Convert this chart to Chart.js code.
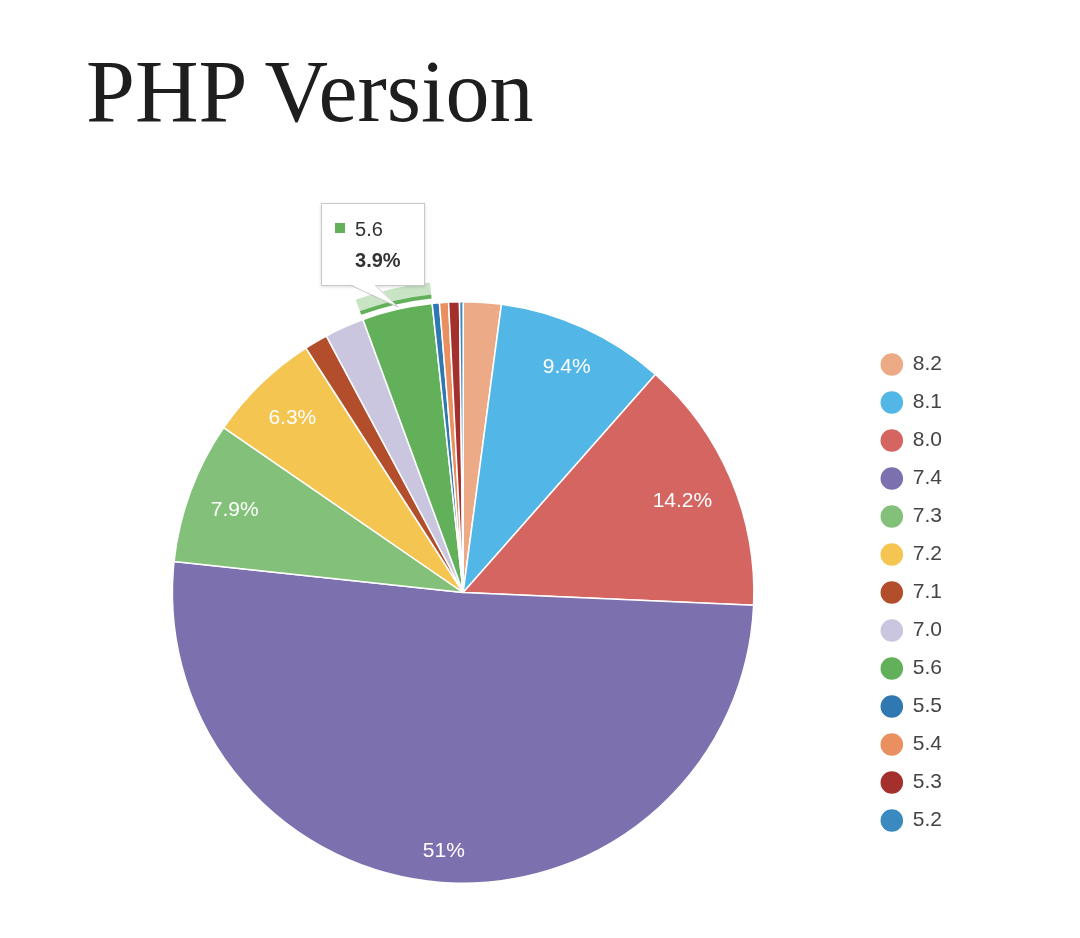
<!DOCTYPE html>
<html>
<head>
<meta charset="utf-8">
<title>PHP Version</title>
<script src="https://cdn.jsdelivr.net/npm/chart.js@4"></script>
<style>
  html, body { margin: 0; padding: 0; background: #fff; }
  #wrap { position: relative; width: 1080px; height: 938px; overflow: hidden; }
  #chart { position: absolute; left: 0; top: 0; }
  #title {
    position: absolute; left: 86px; top: 48px; margin: 0;
    font: normal 88px/88px "Liberation Serif", "DejaVu Serif", serif;
    color: #1e1e1e; z-index: 2;
  }
  #tip {
    position: absolute; display: none; z-index: 3;
    width: 102px; height: 81px;
    background: #fff; border: 1px solid #c8c8c8;
    box-shadow: 0 1px 3px rgba(0,0,0,0.15);
    font-family: "Liberation Sans", Arial, sans-serif; color: #222;
  }
  #tip .sw { position: absolute; left: 13px; top: 19px; width: 10px; height: 10px; }
  #tip .lbl { position: absolute; left: 33px; top: 13px; font-size: 20px; line-height: 24px; color: #333; }
  #tip .val { position: absolute; left: 33px; top: 44px; font-size: 20px; line-height: 24px; font-weight: bold; color: #333; }
  #tip svg { position: absolute; left: -1px; top: 80px; overflow: visible; }
</style>
</head>
<body>
<div id="wrap">
  <h1 id="title">PHP Version</h1>
  <canvas id="chart" width="1080" height="938"></canvas>
  <div id="tip"></div>
</div>
<script>
// ===============================
// DATA
// ===============================

const versions = ["8.2", "8.1", "8.0", "7.4", "7.3", "7.2", "7.1", "7.0", "5.6", "5.5", "5.4", "5.3", "5.2"];
const shares = [2.1, 9.4, 14.2, 51, 7.9, 6.3, 1.3, 2.2, 3.9, 0.4, 0.5, 0.6, 0.2];
const sliceColors = [
  "#ecaa87", "#52b6e7", "#d46561", "#7d70af", "#83c07a", "#f5c551", "#b24e2c",
  "#cbc6e0", "#62b15a", "#2f78b1", "#ea8f5f", "#a3302c", "#3a8abf"
];
const hoveredVersion = "5.6";

const total = shares.reduce((a, b) => a + b, 0);

function formatPct(v) {
  return parseFloat((v / total * 100).toFixed(1)) + "%";
}

// ===============================
// PLUGINS
// ===============================

// white percentage text inside the bigger slices,
// pushed out along the middle angle until the text box touches an inner circle
const sliceLabels = {
  id: "sliceLabels",
  afterDatasetsDraw(chart) {
    const meta = chart.getDatasetMeta(0);
    const ctx = chart.ctx;
    const fontSize = 21;
    ctx.save();
    ctx.font = fontSize + 'px "Liberation Sans", Arial, sans-serif';
    ctx.fillStyle = "#ffffff";
    ctx.textAlign = "center";
    ctx.textBaseline = "middle";
    meta.data.forEach((arc, i) => {
      if (shares[i] / total * 100 < 5) return;
      const p = arc.getProps(["x", "y", "startAngle", "endAngle", "outerRadius"], true);
      const text = formatPct(shares[i]);
      const mid = (p.startAngle + p.endAngle) / 2;
      const ux = Math.cos(mid), uy = Math.sin(mid);
      const hw = ctx.measureText(text).width / 2, hh = fontSize / 2;
      const limit = p.outerRadius * 0.928;
      const b = Math.abs(ux) * hw + Math.abs(uy) * hh;
      const c = hw * hw + hh * hh - limit * limit;
      const d = -b + Math.sqrt(b * b - c);
      ctx.fillText(text, p.x + ux * d, p.y + uy * d + 2);
    });
    ctx.restore();
  }
};

// ring drawn outside the slice under the tooltip
const hoverRing = {
  id: "hoverRing",
  afterDatasetsDraw(chart) {
    const active = chart.tooltip ? chart.tooltip.getActiveElements() : [];
    const ctx = chart.ctx;
    active.forEach(a => {
      const p = a.element.getProps(["x", "y", "startAngle", "endAngle", "outerRadius"], true);
      const color = sliceColors[a.index];
      ctx.save();
      ctx.strokeStyle = color;
      ctx.globalAlpha = 0.35;
      ctx.lineWidth = 12;
      ctx.beginPath();
      ctx.arc(p.x, p.y, p.outerRadius + 15, p.startAngle, p.endAngle);
      ctx.stroke();
      ctx.globalAlpha = 1;
      ctx.lineWidth = 4;
      ctx.beginPath();
      ctx.arc(p.x, p.y, p.outerRadius + 7, p.startAngle, p.endAngle);
      ctx.stroke();
      ctx.restore();
    });
  }
};

// tooltip anchored on the outer edge of the slice
const tooltipPlugin = Chart.registry.getPlugin("tooltip");
tooltipPlugin.positioners.sliceEdge = function(elements) {
  if (!elements.length) return false;
  const p = elements[0].element.getProps(["x", "y", "startAngle", "endAngle", "outerRadius"], true);
  const mid = (p.startAngle + p.endAngle) / 2;
  return { x: p.x + Math.cos(mid) * p.outerRadius, y: p.y + Math.sin(mid) * p.outerRadius };
};

function drawTip(context) {
  const tooltip = context.tooltip;
  const tipEl = document.getElementById("tip");
  if (tooltip.opacity === 0 || !tooltip.dataPoints || !tooltip.dataPoints.length) {
    tipEl.style.display = "none";
    return;
  }
  const i = tooltip.dataPoints[0].dataIndex;
  tipEl.innerHTML =
    '<div class="sw" style="background:' + sliceColors[i] + '"></div>' +
    '<div class="lbl">' + versions[i] + '</div>' +
    '<div class="val">' + formatPct(shares[i]) + '</div>' +
    '<svg width="104" height="26">' +
    '<polygon points="29,0 54,0 77,23" fill="#fff"/>' +
    '<polyline points="29,1 77,23 54,1" fill="none" stroke="#c8c8c8" stroke-width="1"/>' +
    '</svg>';
  tipEl.style.left = (tooltip.caretX - 76) + "px";
  tipEl.style.top = (tooltip.caretY - 106) + "px";
  tipEl.style.display = "block";
}

// ===============================
// CHART
// ===============================

const chart = new Chart(document.getElementById("chart"), {
  type: "pie",
  data: {
    labels: versions,
    datasets: [{
      data: shares,
      backgroundColor: sliceColors,
      borderColor: "#ffffff",
      borderWidth: 1.5,
      hoverOffset: 0,
      hoverBorderWidth: 1.5,
      hoverBackgroundColor: sliceColors
    }]
  },
  options: {
    responsive: false,
    animation: false,
    events: [],
    layout: { padding: { top: 301, bottom: 54, left: 62, right: 128 } },
    plugins: {
      title: { display: false },
      legend: {
        position: "right",
        labels: {
          usePointStyle: true,
          pointStyle: "circle",
          boxHeight: 17,
          padding: 17,
          color: "#444444",
          font: { size: 21, family: '"Liberation Sans", Arial, sans-serif' }
        }
      },
      tooltip: {
        enabled: false,
        animation: false,
        position: "sliceEdge",
        external: drawTip
      }
    }
  },
  plugins: [sliceLabels, hoverRing]
});

const hoverIdx = versions.indexOf(hoveredVersion);
chart.tooltip.setActiveElements([{ datasetIndex: 0, index: hoverIdx }], { x: 0, y: 0 });
chart.draw();
</script>
</body>
</html>
